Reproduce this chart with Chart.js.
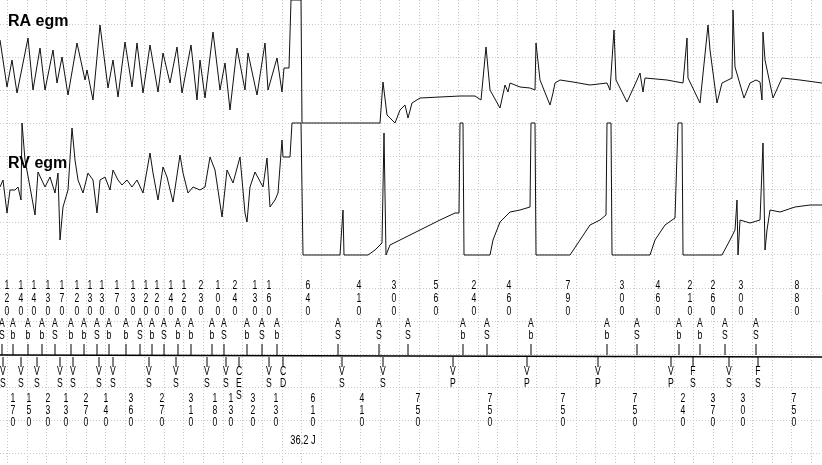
<!DOCTYPE html>
<html><head><meta charset="utf-8">
<script src="https://cdn.jsdelivr.net/npm/chart.js@4"></script>
<style>body{margin:0;background:#fff}#w{width:822px;height:465px}</style>
</head><body><div id="w"><canvas id="c"></canvas></div>
<script>
// RA egm trace, [time(px), amplitude(px from top)]
const raTrace = [[0,40],[7,87],[12,60],[17,93],[28,38],[33,90],[40,48],[45,90],[53,50],[57,83],[62,57],[68,95],[77,43],[85,80],[87,70],[93,100],[100,25],[108,88],[113,60],[118,97],[125,42],[132,87],[137,43],[143,93],[150,45],[158,92],[163,53],[170,83],[177,47],[182,93],[191,45],[197,100],[200,60],[205,98],[213,32],[220,90],[225,63],[230,110],[237,48],[245,90],[248,53],[257,95],[265,43],[268,90],[277,58],[282,92],[284,68],[289,68],[291,0],[301,0],[302,123],[380,123],[383,82],[387,115],[395,123],[400,110],[405,105],[408,118],[412,103],[420,98],[440,97],[460,96],[475,96],[481,100],[486,47],[490,90],[500,108],[505,85],[508,92],[510,83],[520,87],[530,88],[535,90],[536,43],[540,80],[550,105],[553,93],[555,83],[560,80],[573,82],[590,85],[607,83],[610,90],[614,30],[616,80],[627,102],[637,80],[640,73],[643,92],[645,78],[667,80],[683,83],[687,38],[688,78],[700,103],[708,25],[710,50],[717,103],[722,83],[728,80],[732,78],[733,10],[735,67],[744,98],[750,83],[756,80],[760,82],[762,100],[763,32],[765,60],[773,98],[782,78],[800,80],[822,83]];
// RV egm trace
const rvTrace = [[0,187],[3,180],[7,213],[10,190],[15,190],[18,187],[21,200],[22,123],[25,160],[30,187],[35,215],[38,172],[45,187],[50,177],[55,193],[58,173],[60,240],[63,207],[68,190],[72,128],[75,160],[78,180],[83,193],[88,173],[93,180],[97,213],[100,180],[105,177],[110,190],[113,170],[118,180],[122,185],[127,180],[132,187],[137,180],[143,193],[150,153],[153,173],[158,200],[163,167],[167,177],[173,202],[180,155],[183,173],[188,193],[193,187],[200,190],[205,187],[210,157],[215,170],[222,217],[227,170],[233,183],[240,157],[245,213],[247,222],[250,187],[255,172],[263,187],[267,158],[270,207],[275,200],[278,193],[282,140],[283,157],[290,157],[292,123],[301,123],[303,255],[340,255],[343,210],[344,255],[368,255],[375,250],[382,243],[384,133],[386,255],[390,245],[400,240],[420,230],[440,220],[455,213],[459,213],[460,123],[463,123],[464,255],[490,255],[493,240],[500,222],[510,212],[520,210],[530,207],[531,123],[535,123],[536,255],[570,255],[580,240],[590,225],[600,220],[606,215],[607,123],[611,123],[612,255],[650,255],[655,240],[665,225],[675,218],[678,123],[682,123],[683,255],[722,255],[730,240],[735,230],[737,200],[738,255],[740,220],[750,223],[760,220],[763,143],[765,250],[767,230],[770,210],[780,212],[795,207],[810,205],[822,205]];
// atrial markers
const aMarkX = [2,13,28,42,55,71,84,97,109,126,140,152,164,178,191,212,224,247,262,277,338,379,408,463,487,531,607,637,679,700,725,756];
const aMarkLbl = ["AS","Ab","Ab","Ab","AS","Ab","Ab","AS","Ab","Ab","AS","Ab","AS","Ab","Ab","Ab","AS","Ab","AS","Ab","AS","AS","AS","Ab","AS","Ab","Ab","AS","Ab","Ab","AS","AS"];
// atrial intervals (ms)
const aIntX = [7,21,34,48,62,77,90,102,117,133,146,157,171,184,201,218,235,255,269,308,359,394,436,474,509,568,622,658,690,713,741,797];
const aIntVal = ["120","140","140","130","170","120","130","130","170","130","120","120","140","120","230","100","240","130","160","640","410","300","560","240","460","790","300","460","210","260","300","880"];
// ventricular markers
const vMarkX = [3,21,37,60,73,99,113,149,176,207,226,239,269,283,342,383,453,527,598,671,693,729,758];
const vMarkLbl = ["VS","VS","VS","VS","VS","VS","VS","VS","VS","VS","VS","CES","VS","CD","VS","VS","VP","VP","VP","VP","FS","VS","FS"];
// ventricular intervals (ms)
const vIntX = [13,29,48,66,86,106,131,162,191,215,231,253,276,313,362,418,490,563,635,683,713,743,794];
const vIntVal = ["170","150","230","130","270","140","360","270","310","180","130","320","130","610","410","750","750","750","750","240","370","300","750"];
const energy = "36.2 J";

const xGrid = []; for (let x = 7.6; x < 822; x += 19.6) xGrid.push(x);
const yGrid = []; for (let y = 24; y < 465; y += 33) yGrid.push(y);

const toPts = a => a.map(p => ({x:p[0], y:p[1]}));

const annot = {
  id:'annot',
  afterDatasetsDraw(ch){
    const c = ch.ctx, xs = ch.scales.x, ys = ch.scales.y;
    const X = v => xs.getPixelForValue(v), Y = v => ys.getPixelForValue(v);
    c.save();
    c.fillStyle = '#000'; c.strokeStyle = '#000';
    c.font = 'bold 16px "Liberation Sans", Arial, sans-serif';
    c.textAlign = 'left'; c.textBaseline = 'alphabetic';
    c.fillText('RA egm', X(8), Y(26));
    c.fillText('RV egm', X(8), Y(168));
    c.font = '12px "Liberation Sans", Arial, sans-serif';
    c.textAlign = 'center'; c.textBaseline = 'middle';
    const glyph = (t, x, y) => { c.save(); c.translate(X(x), Y(y)); c.scale(0.72, 1.05); c.fillText(t, 0, 0); c.restore(); };
    const stack = (s, x, y0, dy) => { for (let i = 0; i < s.length; i++) glyph(s[i], x, y0 + i*dy); };
    c.lineWidth = 1.6;
    c.beginPath(); c.moveTo(X(0), Y(355)); c.lineTo(X(822), Y(357)); c.stroke();
    c.lineWidth = 1;
    aIntX.forEach((x,i) => stack(aIntVal[i], x, 286, 13));
    aMarkX.forEach((x,i) => {
      stack(aMarkLbl[i], x, 324, 12);
      c.beginPath(); c.moveTo(X(x), Y(344)); c.lineTo(X(x), Y(355)); c.stroke();
    });
    vMarkX.forEach((x,i) => {
      c.beginPath(); c.moveTo(X(x), Y(357)); c.lineTo(X(x), Y(367)); c.stroke();
      stack(vMarkLbl[i], x, 372, 12);
    });
    vIntX.forEach((x,i) => stack(vIntVal[i], x, 399, 12));
    c.font = '13px "Liberation Sans", Arial, sans-serif';
    glyph(energy, 303, 440);
    c.restore();
  }
};

new Chart(document.getElementById('c'), {
  type:'line',
  data:{datasets:[
    {data:toPts(raTrace), borderColor:'#111', borderWidth:1, pointRadius:0, tension:0},
    {data:toPts(rvTrace), borderColor:'#111', borderWidth:1, pointRadius:0, tension:0}
  ]},
  options:{
    responsive:true, maintainAspectRatio:false, animation:false,
    layout:{padding:0},
    plugins:{legend:{display:false}, tooltip:{enabled:false}},
    scales:{
      x:{type:'linear', min:0, max:822, border:{display:false, dash:[1,2]},
         afterBuildTicks:s => { s.ticks = xGrid.map(v => ({value:v})); },
         ticks:{display:false}, grid:{color:'#c8c8c8', lineWidth:1, drawTicks:false}},
      y:{type:'linear', min:0, max:465, reverse:true, border:{display:false, dash:[1,2]},
         afterBuildTicks:s => { s.ticks = yGrid.map(v => ({value:v})); },
         ticks:{display:false}, grid:{color:'#c8c8c8', lineWidth:1, drawTicks:false}}
    }
  },
  plugins:[annot, {id:'bg', beforeDraw(ch){const c=ch.ctx;c.save();c.fillStyle='#fff';c.fillRect(0,0,ch.width,ch.height);c.restore();}}]
});
</script></body></html>
